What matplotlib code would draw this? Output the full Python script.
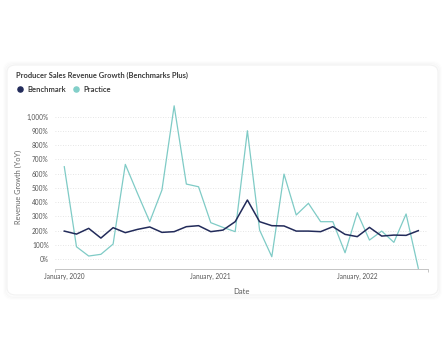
import matplotlib
matplotlib.use("Agg")
import matplotlib.pyplot as plt
from matplotlib.patches import FancyBboxPatch
from matplotlib.ticker import FuncFormatter, FixedLocator

plt.rcParams['font.family'] = ['Lato', 'DejaVu Sans']

months = ["2020-01", "2020-02", "2020-03", "2020-04", "2020-05", "2020-06",
          "2020-07", "2020-08", "2020-09", "2020-10", "2020-11", "2020-12",
          "2021-01", "2021-02", "2021-03", "2021-04", "2021-05", "2021-06",
          "2021-07", "2021-08", "2021-09", "2021-10", "2021-11", "2021-12",
          "2022-01", "2022-02", "2022-03", "2022-04", "2022-05", "2022-06"]
benchmark = [196, 175, 215, 147, 220, 185, 208, 225, 187, 192,
             227, 234, 192, 203, 262, 414, 262, 234, 232, 196,
             196, 192, 227, 173, 157, 222, 161, 168, 166, 199]
practice = [648, 86, 21, 33, 105, 664, 460, 262, 484, 1075,
            526, 507, 255, 222, 192, 900, 203, 16, 596, 309,
            391, 262, 262, 44, 325, 133, 196, 117, 316, -65]
year_ticks = ["January, 2020", "January, 2021", "January, 2022"]
y_ticks = [0, 100, 200, 300, 400, 500, 600, 700, 800, 900, 1000]

W, H = 446, 362
fig = plt.figure(figsize=(W / 100, H / 100), dpi=100)
fig.patch.set_facecolor("white")

# card with soft shadow
for i, a in enumerate([0.008, 0.012, 0.018]):
    d = 3 - i
    sh = FancyBboxPatch(((7 - d) / W, 1 - (296 + d) / H), (431 + 2 * d) / W, (231 + 2 * d) / H,
                        boxstyle="round,pad=0,rounding_size=0.02", transform=fig.transFigure,
                        facecolor="none", edgecolor=(0, 0, 0, a), linewidth=1.5, zorder=-2)
    fig.patches.append(sh)
card = FancyBboxPatch((7 / W, 1 - 295 / H), 431 / W, 230 / H,
                      boxstyle="round,pad=0,rounding_size=0.02", transform=fig.transFigure,
                      facecolor="white", edgecolor="#f2f2f2", linewidth=0.8, zorder=-1)
fig.patches.append(card)

ax = fig.add_axes([55 / W, 93 / H, 372.7 / W, 166.75 / H])
ax.set_zorder(2)
ax.set_facecolor("none")
x = list(range(len(months)))

ax.plot(x, practice, color="#7fcbc6", linewidth=0.9, zorder=3)
ax.plot(x, benchmark, color="#222b5a", linewidth=1.1, zorder=4)

ax.set_xlim(-0.76, len(months) - 1 + 0.77)
ax.set_ylim(-70, 1100)

ax.yaxis.set_major_locator(FixedLocator(y_ticks))
ax.yaxis.set_major_formatter(FuncFormatter(lambda v, p: f"{int(v):,}%"))
ax.grid(axis="y", color="#dddddd", linestyle=(0, (1, 2)), linewidth=0.6)
ax.tick_params(axis="y", length=0, pad=4.5, labelsize=4.7, labelcolor="#555555")

tick_pos = [months.index("2020-01"), months.index("2021-01"), months.index("2022-01")]
ax.set_xticks(tick_pos)
ax.set_xticklabels(year_ticks)
ax.tick_params(axis="x", length=0, pad=3, labelsize=4.7, labelcolor="#555555")
ax.set_xticks([ax.get_xlim()[0], ax.get_xlim()[1]], minor=True)
ax.tick_params(axis="x", which="minor", length=2.5, width=0.6, color="#bbbbbb")

for s in ["left", "right", "top"]:
    ax.spines[s].set_visible(False)
ax.spines["bottom"].set_color("#c4c4c4")
ax.spines["bottom"].set_linewidth(0.7)

ax.set_ylabel("Revenue Growth (YoY)", fontsize=5.3, color="#666666")
ax.yaxis.set_label_coords(-0.0885, 0.495)
ax.set_xlabel("Date", fontsize=5.5, color="#555555")
ax.xaxis.set_label_coords(0.5, -0.115)

fig.text(16 / W, 1 - 75 / H, "Producer Sales Revenue Growth (Benchmarks Plus)",
         fontsize=5.4, fontweight="bold", color="#3a3a3a", va="center", ha="left")

fig.lines.append(plt.Line2D([19.5 / W], [1 - 89 / H], marker="o", markersize=3.7,
                            color="#222b5a", transform=fig.transFigure, linestyle="none"))
fig.text(27 / W, 1 - 89 / H, "Benchmark", fontsize=5.6, color="#333333",
         va="center", ha="left", fontweight="semibold")
fig.lines.append(plt.Line2D([75.5 / W], [1 - 89 / H], marker="o", markersize=3.7,
                            color="#82cfc9", transform=fig.transFigure, linestyle="none"))
fig.text(83 / W, 1 - 89 / H, "Practice", fontsize=5.6, color="#333333",
         va="center", ha="left", fontweight="semibold")

fig.savefig("out.png", dpi=100, facecolor="white")
